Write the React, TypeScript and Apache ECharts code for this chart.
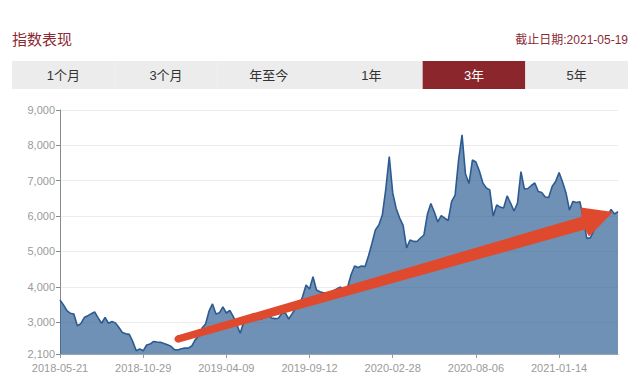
import React, { useEffect, useRef } from "react";
import * as echarts from "echarts";

const dates: string[] = [
  "2018-05-21","2018-05-28","2018-06-04","2018-06-11","2018-06-19","2018-06-25","2018-07-02","2018-07-09","2018-07-16","2018-07-23","2018-07-30","2018-08-06","2018-08-13","2018-08-20","2018-08-27","2018-09-03","2018-09-10","2018-09-17","2018-09-25","2018-09-28","2018-10-08","2018-10-15","2018-10-22","2018-10-25",
  "2018-10-29","2018-11-05","2018-11-12","2018-11-19","2018-11-26","2018-12-03","2018-12-10","2018-12-17","2018-12-24","2018-12-28","2019-01-04","2019-01-11","2019-01-18","2019-01-25","2019-02-01","2019-02-11","2019-02-18","2019-02-25","2019-03-04","2019-03-11","2019-03-18","2019-03-25","2019-03-29","2019-04-04",
  "2019-04-09","2019-04-16","2019-04-23","2019-04-30","2019-05-08","2019-05-15","2019-05-22","2019-05-29","2019-06-05","2019-06-12","2019-06-19","2019-06-26","2019-07-03","2019-07-10","2019-07-17","2019-07-24","2019-07-31","2019-08-07","2019-08-14","2019-08-21","2019-08-28","2019-09-02","2019-09-05","2019-09-09",
  "2019-09-12","2019-09-19","2019-09-26","2019-10-10","2019-10-17","2019-10-24","2019-10-31","2019-11-07","2019-11-14","2019-11-21","2019-11-28","2019-12-05","2019-12-12","2019-12-19","2019-12-26","2020-01-02","2020-01-09","2020-01-16","2020-01-23","2020-02-04","2020-02-07","2020-02-12","2020-02-18","2020-02-24",
  "2020-02-28","2020-03-06","2020-03-13","2020-03-20","2020-03-27","2020-04-03","2020-04-10","2020-04-17","2020-04-24","2020-05-06","2020-05-13","2020-05-20","2020-05-27","2020-06-03","2020-06-10","2020-06-17","2020-06-24","2020-07-01","2020-07-06","2020-07-09","2020-07-14","2020-07-20","2020-07-27","2020-08-03",
  "2020-08-06","2020-08-13","2020-08-20","2020-08-27","2020-09-03","2020-09-10","2020-09-17","2020-09-24","2020-09-30","2020-10-09","2020-10-16","2020-10-23","2020-10-30","2020-11-06","2020-11-13","2020-11-20","2020-11-27","2020-12-04","2020-12-11","2020-12-18","2020-12-25","2020-12-31","2021-01-07","2021-01-11",
  "2021-01-14","2021-01-21","2021-01-28","2021-02-04","2021-02-10","2021-02-19","2021-02-26","2021-03-05","2021-03-12","2021-03-19","2021-03-26","2021-04-02","2021-04-09","2021-04-16","2021-04-23","2021-04-30","2021-05-12","2021-05-19"
];

const indexValues: number[] = [
  3630,3490,3325,3250,3230,2900,2960,3130,3180,3240,3290,3120,2970,3135,2970,3020,2980,2850,2710,2670,2655,2450,2190,2245,
  2190,2355,2380,2455,2440,2430,2400,2360,2320,2225,2215,2250,2265,2265,2325,2500,2610,2835,2950,3310,3515,3230,3265,3430,
  3260,3330,3155,2930,2685,3005,3095,3200,3230,3105,3080,3145,3195,3120,3100,3110,3245,3260,3090,3240,3400,3485,3725,4050,
  3940,4285,3910,3860,3830,3830,3855,3895,3950,3995,3750,3995,4350,4590,4545,4590,4570,4870,5225,5610,5750,6030,6765,7680,
  6655,6215,5945,5740,5100,5325,5285,5280,5380,5465,6050,6355,6115,5835,6015,5945,5875,6415,6595,7585,8295,7190,6920,7585,
  7530,7275,6940,6795,6740,6000,6315,6255,6230,6570,6370,6145,6370,7255,6765,6780,6865,6935,6695,6665,6540,6525,6835,6980,
  7230,6965,6655,6170,6415,6385,6405,5940,5370,5385,5580,5805,5955,5960,6030,6185,6060,6125
];

const yTicks: number[] = [2100, 3000, 4000, 5000, 6000, 7000, 8000, 9000];
const tabs: string[] = ["1个月", "3个月", "年至今", "1年", "3年", "5年"];
const activeTab = "3年";
const title = "指数表现";
const asOf = "截止日期:2021-05-19";

const RED = "#8a2a33";
const NUM_FONT = '"Liberation Sans", Arial, sans-serif';
const MIX_FONT = '"Liberation Sans", "Noto Sans CJK SC", sans-serif';
const fmt = (v: number) => String(v).replace(/\B(?=(\d{3})+(?!\d))/g, ",");

export default function App() {
  const ref = useRef<HTMLDivElement>(null);
  useEffect(() => {
    document.body.style.margin = "0";
    const chart = echarts.init(ref.current!, null, { renderer: "svg" });
    const tabW = (628 - 12) / tabs.length;
    const tabGraphics: any[] = [];
    tabs.forEach((t, i) => {
      const active = t === activeTab;
      tabGraphics.push({
        type: "rect",
        shape: { x: 12 + i * tabW, y: 61, width: tabW, height: 28 },
        style: { fill: active ? "#8b262c" : "#ececec" },
        silent: true,
      });
      tabGraphics.push({
        type: "text",
        x: 12 + i * tabW + tabW / 2,
        y: 75,
        style: {
          text: t,
          fill: active ? "#ffffff" : "#333333",
          font: "13px " + MIX_FONT,
          textAlign: "center",
          textVerticalAlign: "middle",
        },
        silent: true,
      });
    });
    const arrow = [
      { type: "circle", shape: { cx: 178, cy: 339, r: 3.6 }, style: { fill: "#df4a2e" }, z: 100 },
      {
        type: "polygon",
        shape: {
          points: [
            [177, 335.5],
            [581.5, 216.8],
            [581, 207.6],
            [613, 212],
            [589, 236.4],
            [585, 229.6],
            [179, 342.5],
          ],
        },
        style: { fill: "#df4a2e" },
        z: 100,
      },
    ];
    chart.setOption({
      animation: false,
      grid: { left: 60, right: 16, top: 110, bottom: 34 },
      graphic: [
        {
          type: "text",
          left: 12,
          top: 31,
          style: { text: title, fill: RED, font: '15px "Noto Sans CJK SC", sans-serif' },
        },
        {
          type: "text",
          right: 6,
          top: 34,
          style: { text: asOf, fill: RED, font: "12px " + MIX_FONT },
        },
        ...tabGraphics,
        ...arrow,
      ],
      xAxis: {
        type: "category",
        data: dates,
        boundaryGap: false,
        axisLine: { lineStyle: { color: "#9aa6b4" } },
        axisTick: { interval: 23, length: 4, lineStyle: { color: "#9a9a9a" } },
        axisLabel: {
          interval: 23,
          color: "#9a9a9a",
          fontSize: 11,
          fontFamily: NUM_FONT,
          margin: 8,
        },
        splitLine: { show: false },
      },
      yAxis: {
        type: "value",
        min: 2100,
        max: 9000,
        axisLine: { show: true, lineStyle: { color: "#8a8a8a" } },
        axisTick: { show: true, length: 4, customValues: yTicks, lineStyle: { color: "#8a8a8a" } },
        axisLabel: {
          customValues: yTicks,
          color: "#9a9a9a",
          fontSize: 11,
          fontFamily: NUM_FONT,
          margin: 5,
          formatter: (v: number) => fmt(v),
        },
        splitLine: { show: true, lineStyle: { color: "#ececec" } },
      },
      series: [
        {
          type: "line",
          data: indexValues,
          symbol: "none",
          lineStyle: { color: "#2d5b91", width: 1.6 },
          areaStyle: { color: "#2f5f94", opacity: 0.69 },
        },
      ],
    });
    return () => chart.dispose();
  }, []);
  return <div ref={ref} style={{ width: 634, height: 388 }} />;
}
